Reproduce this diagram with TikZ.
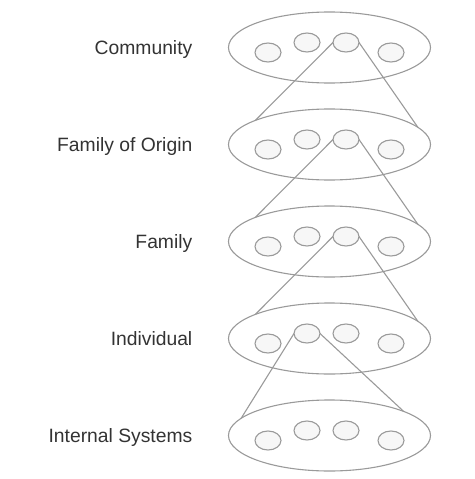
\documentclass[tikz,border=0pt]{standalone}
\usepackage{fontspec}
\setmainfont{Liberation Sans}
\usetikzlibrary{shapes.geometric}
\definecolor{edgegray}{HTML}{9A9A9A}
\definecolor{fillgray}{HTML}{F7F7F7}
\definecolor{textgray}{HTML}{333333}
\tikzset{
  bigell/.style={ellipse, draw=edgegray, line width=1.1pt, minimum width=202pt, minimum height=71pt, inner sep=0pt, outer sep=0pt},
  smallell/.style={ellipse, draw=edgegray, fill=fillgray, line width=1.1pt, minimum width=26pt, minimum height=19pt, inner sep=0pt, outer sep=0pt},
  lvl/.style={anchor=base east, text=textgray, font=\fontsize{19.3}{23}\selectfont, inner sep=0pt},
  conn/.style={draw=edgegray, line width=1.1pt}
}
\begin{document}
\begin{tikzpicture}[x=1pt,y=1pt]
\useasboundingbox (0,0) rectangle (474,-479);
\foreach \i/\lab in {1/Community,2/Family of Origin,3/Family,4/Individual,5/Internal Systems}{
  \pgfmathsetmacro{\yc}{-47.5-97*(\i-1)}
  \node[bigell] (E\i) at (329.5,\yc) {};
  \node[smallell] (E\i a) at (268,\yc-5) {};
  \node[smallell] (E\i b) at (307,\yc+5) {};
  \node[smallell] (E\i c) at (346,\yc+5) {};
  \node[smallell] (E\i d) at (391,\yc-5) {};
  \node[lvl] (L\i) at (192.5,\yc-6.5) {\lab};
}
\draw[conn] (E1c.west) -- (E2.162.6);
\draw[conn] (E1c.east) -- (E2.11.5);
\draw[conn] (E2c.west) -- (E3.162.6);
\draw[conn] (E2c.east) -- (E3.11.5);
\draw[conn] (E3c.west) -- (E4.162.6);
\draw[conn] (E3c.east) -- (E4.11.5);
\draw[conn] (E4b.west) -- (E5.169.1);
\draw[conn] (E4b.east) -- (E5.18.2);
\end{tikzpicture}
\end{document}
